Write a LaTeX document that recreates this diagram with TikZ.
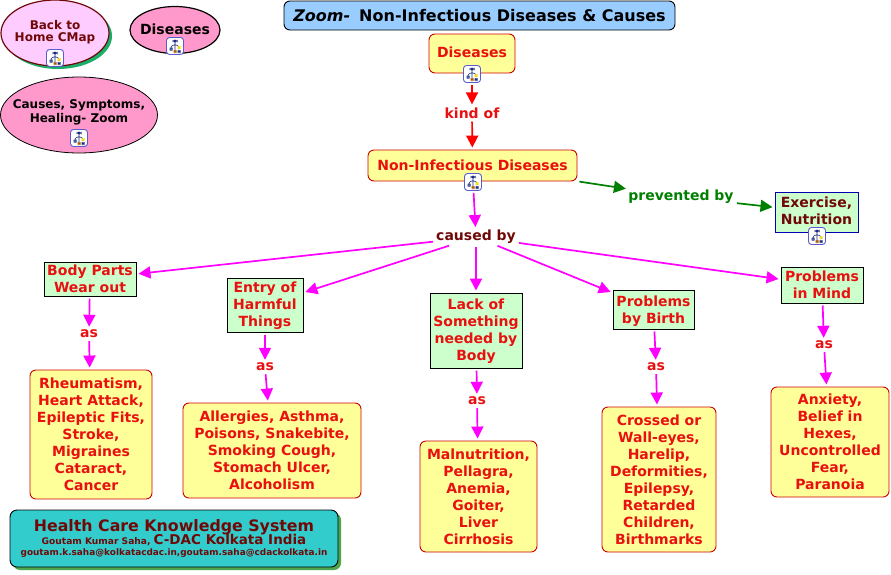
\documentclass[tikz,border=0pt]{standalone}
\usepackage{fontspec}
\setmainfont{DejaVu Sans}
\usetikzlibrary{
    arrows.meta,
    shapes.geometric,
    shadows,
    calc
}
\definecolor{cmapred}{HTML}{E81010}
\definecolor{cmapmaroon}{HTML}{700808}
\definecolor{cmapgreen}{HTML}{008000}
\definecolor{cmapmagenta}{HTML}{FF00FF}
\definecolor{cmapyellow}{HTML}{FFFF99}
\definecolor{cmapmint}{HTML}{CCFFCC}
\definecolor{cmappink}{HTML}{FF99CC}
\definecolor{cmapnavy}{HTML}{1A2F80}
\definecolor{cmapsky}{HTML}{99CCFF}
\definecolor{cmapteal}{HTML}{33CCCC}
\definecolor{cmaplilac}{HTML}{FFCCFF}
\tikzset{
    txt/.style={font=\fontsize{14}{17}\selectfont\bfseries, align=center, inner sep=1pt},
    yellowbox/.style={txt, draw=red!80!black, fill=cmapyellow, text=cmapred, rounded corners=6pt, line width=.9pt, inner sep=0pt, text depth=-2pt},
    mintbox/.style={txt, draw=black, fill=cmapmint, text=cmapred, line width=1pt, inner sep=0pt, text depth=-2pt},
    oval/.style={txt, ellipse, draw=black, fill=cmappink, inner sep=0pt},
    mapicon/.style={draw=blue!55!white!80!black, fill=white, rounded corners=3pt, line width=.9pt, minimum size=17pt, inner sep=0pt,
        path picture={
            \coordinate (c) at (path picture bounding box.center);
            \draw[color=cmapnavy, line width=.6pt]
                ($(c)+(0,-4)$) -- ($(c)+(0,5)$) ($(c)+(-4,3)$) -- ($(c)+(-4,-1)$) -- ($(c)+(4,-1)$) -- ($(c)+(4,3)$);
            \fill[cmapnavy] ($(c)+(-2.5,-6.5)$) rectangle ($(c)+(2.5,-3.5)$);
            \fill[cmapnavy] ($(c)+(-5.5,1.5)$) rectangle ($(c)+(-2.5,4.5)$);
            \fill[yellow!80!orange] ($(c)+(2.5,0)$) rectangle ($(c)+(5.5,3)$);
            \fill[cmapnavy] ($(c)+(2.5,4)$) rectangle ($(c)+(5.5,7)$);
            \fill[orange!70!black] ($(c)+(-1.5,4)$) rectangle ($(c)+(1.5,7)$);
        }},
    link/.style={-{Triangle[length=12pt,width=12pt]}, line width=1.7pt, shorten >=2pt, shorten <=2pt}
}
\begin{document}
\begin{tikzpicture}[x=1pt, y=-1pt]
    \useasboundingbox (0,0) rectangle (891,574);

    % menu ovals
    \node[oval, draw=cmapmaroon, fill=cmaplilac, text=cmapmaroon, font=\fontsize{12}{14.5}\selectfont\bfseries, line width=1.2pt, minimum width=108pt, minimum height=66pt,
        drop shadow={shadow xshift=3pt, shadow yshift=-3pt, fill=teal!70!green!90, opacity=1}] (back) at (55,33) {\makebox[0pt]{\raisebox{5pt}{\shortstack{Back to\\Home CMap}}}};
    \node[oval, line width=1.2pt, minimum width=90pt, minimum height=47pt] (dis) at (175,30) {\makebox[0pt]{\raisebox{2pt}{Diseases}}};
    \node[oval, font=\fontsize{12}{14.5}\selectfont\bfseries, line width=.8pt, minimum width=157pt, minimum height=76pt] (cause) at (79,115) {\makebox[0pt]{\raisebox{8pt}{\shortstack{Causes, Symptoms,\\Healing- Zoom}}}};
    \node[mapicon] (backic) at (55,58) {};
    \node[mapicon] (disic) at (175,46) {};
    \node[mapicon] (causeic) at (79,138) {};

    % title
    \node[txt, draw=black, fill=cmapsky, rounded corners=6pt, line width=.9pt, minimum width=391pt, minimum height=29pt, font=\fontsize{16}{17}\selectfont\bfseries, inner sep=0pt] (title) at (479.5,15.5) {\textit{Zoom-}\hspace{9pt}Non-Infectious Diseases \& Causes};

    % top of the map
    \node[yellowbox, minimum width=86pt, minimum height=39pt] (top) at (472,53.5) {\raisebox{2pt}{Diseases}};
    \node[mapicon] (topic) at (472,74) {};
    \node[txt, text=cmapred] (kind) at (472,113) {kind of};
    \node[yellowbox, text depth=0pt, minimum width=209pt, minimum height=31pt] (nid) at (472.5,165.5) {Non-Infectious Diseases};
    \node[mapicon] (nidic) at (473,182) {};
    \node[txt, text=cmapmaroon] (caused) at (476,237) {caused by};
    \node[txt, text=cmapgreen] (prev) at (681,197) {prevented by};
    \node[mintbox, draw=blue!70!black, text=cmapmaroon, text depth=2pt, minimum width=83pt, minimum height=40pt] (exer) at (816.5,212) {Exercise,\\ Nutrition};
    \node[mapicon] (exeric) at (817,236) {};

    % causes
    \node[mintbox, minimum width=92pt, minimum height=34pt] (body) at (90,279) {Body Parts\\Wear out};
    \node[mintbox, text depth=2pt, minimum width=76pt, minimum height=54pt] (entry) at (265,305) {Entry of\\Harmful\\Things};
    \node[mintbox, text depth=2pt, minimum width=92pt, minimum height=75pt] (lack) at (476,330.5) {Lack of\\Something\\needed by\\Body};
    \node[mintbox, text depth=0pt, minimum width=81pt, minimum height=39pt] (birth) at (653.5,309.5) {Problems\\by Birth};
    \node[mintbox, minimum width=82pt, minimum height=36pt] (mind) at (822,285) {Problems\\in Mind};

    % as labels
    \node[txt, text=cmapred] (as1) at (89,334) {as};
    \node[txt, text=cmapred] (as2) at (265,367) {as};
    \node[txt, text=cmapred] (as3) at (477,401) {as};
    \node[txt, text=cmapred] (as4) at (656,367) {as};
    \node[txt, text=cmapred] (as5) at (824,345) {as};

    % examples
    \node[yellowbox, text depth=-4pt, minimum width=122pt, minimum height=129pt] (ex1) at (91,434.5) {Rheumatism,\\Heart Attack,\\Epileptic Fits,\\Stroke,\\Migraines\\Cataract,\\Cancer};
    \node[yellowbox, text depth=-4pt, minimum width=178pt, minimum height=95pt] (ex2) at (272,450.5) {Allergies, Asthma,\\Poisons, Snakebite,\\Smoking Cough,\\Stomach Ulcer,\\Alcoholism};
    \node[yellowbox, minimum width=117pt, minimum height=111pt] (ex3) at (478.5,496.5) {Malnutrition,\\Pellagra,\\Anemia,\\Goiter,\\Liver\\Cirrhosis};
    \node[yellowbox, minimum width=114pt, minimum height=145pt] (ex4) at (659,479.5) {Crossed or\\Wall-eyes,\\Harelip,\\Deformities,\\Epilepsy,\\Retarded\\Children,\\Birthmarks};
    \node[yellowbox, minimum width=118pt, minimum height=110pt] (ex5) at (830,442) {Anxiety,\\Belief in\\Hexes,\\Uncontrolled\\Fear,\\Paranoia};

    % credits
    \node[draw=black, fill=cmapteal, rounded corners=7pt, line width=.9pt, minimum width=328pt, minimum height=57pt, inner sep=0pt, align=center, text=cmapmaroon, font=\bfseries,
        drop shadow={shadow xshift=3pt, shadow yshift=-3pt, fill=green!50!black!70, opacity=1}] (credit) at (174,538.5)
        {{\fontsize{15.8}{18}\selectfont Health Care Knowledge System}\\[-1pt]
        {\fontsize{9.1}{14}\selectfont Goutam Kumar Saha, }{\fontsize{13.5}{14}\selectfont C-DAC Kolkata India}\\[-1pt]
        {\fontsize{8.9}{11}\selectfont goutam.k.saha@kolkatacdac.in,goutam.saha@cdackolkata.in}};

    % connectors
    \draw[red, link]
    (topic) edge (kind)
    (kind) edge (nid);
    \draw[cmapgreen, link]
    (nid) edge (prev)
    (prev) edge (exer);
    \draw[cmapmagenta, link]
    (nidic) edge (caused)
    (caused) edge (body)
    (caused) edge (entry)
    (caused) edge (lack)
    (caused) edge (birth)
    (caused) edge (mind)
    (body) edge (as1) (as1) edge (ex1)
    (entry) edge (as2) (as2) edge (ex2)
    (lack) edge (as3) (as3) edge (ex3)
    (birth) edge (as4) (as4) edge (ex4)
    (mind) edge (as5) (as5) edge (ex5);
\end{tikzpicture}
\end{document}
